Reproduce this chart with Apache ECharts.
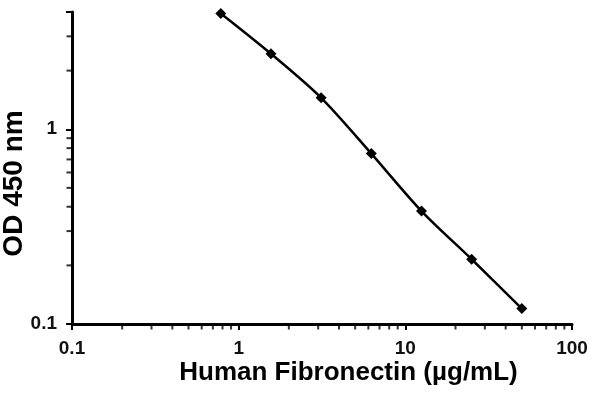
<!DOCTYPE html>
<html>
<head>
<meta charset="utf-8">
<script src="https://cdn.jsdelivr.net/npm/echarts@6/dist/echarts.min.js"></script>
<style>html,body{margin:0;padding:0;background:#fff}#c{width:600px;height:395px}</style>
</head>
<body>
<div id="c"></div>
<script>
var concentrations = [0.78125, 1.5625, 3.125, 6.25, 12.5, 25, 50];
var odValues = [3.93, 2.44, 1.45, 0.75, 0.38, 0.215, 0.12];
var xMajorLabels = ['0.1', '1', '10', '100'];
var yMajorLabels = ['0.1', '1'];
var xMinorTicks = [0.2,0.3,0.4,0.5,0.6,0.7,0.8,0.9,2,3,4,5,6,7,8,9,20,30,40,50,60,70,80,90];
var yMinorTicks = [0.2,0.3,0.4,0.5,0.6,0.7,0.8,0.9,2,3,4];

var FONT = "Arial, 'Liberation Sans', sans-serif";
function powLabel(list){
  return function(v){
    var l = Math.log10(v);
    if (Math.abs(l - Math.round(l)) > 1e-6) return '';
    for (var i=0;i<list.length;i++){ if (Math.abs(parseFloat(list[i]) - v) < 1e-9) return list[i]; }
    return '';
  };
}
var chart = echarts.init(document.getElementById('c'));
chart.setOption({
  animation: false,
  backgroundColor: '#fff',
  grid: {left: 72, right: 28, top: 12, bottom: 71, containLabel: false, outerBoundsMode: 'none'},
  xAxis: {
    type: 'log', logBase: 10, min: 0.1, max: 100,
    name: 'Human Fibronectin (µg/mL)', nameLocation: 'middle', nameGap: 36, nameMoveOverlap: false,
    nameTextStyle: {fontFamily: FONT, fontWeight: 'bold', fontSize: 26, color: '#000', padding: [0,0,0,53]},
    axisLine: {show: true, onZero: false, lineStyle: {color: '#000', width: 3}},
    axisTick: {show: true, length: 6, lineStyle: {color: '#000', width: 2}},
    axisLabel: {fontFamily: FONT, fontWeight: 'bold', fontSize: 19, color: '#111', margin: 15, formatter: powLabel(xMajorLabels), showMaxLabel: true, showMinLabel: true},
    splitLine: {show: false}
  },
  yAxis: {
    type: 'log', logBase: 10, min: 0.1, max: 4,
    name: 'OD 450 nm', nameLocation: 'middle', nameGap: 44, nameRotate: 90, nameMoveOverlap: false,
    nameTextStyle: {fontFamily: FONT, fontWeight: 'bold', fontSize: 28, color: '#000', padding: [0,31,0,0]},
    axisLine: {show: true, onZero: false, lineStyle: {color: '#000', width: 3}},
    axisTick: {show: true, length: 6, lineStyle: {color: '#000', width: 2}},
    axisLabel: {fontFamily: FONT, fontWeight: 'bold', fontSize: 19, color: '#111', margin: 15, formatter: powLabel(yMajorLabels)},
    splitLine: {show: false}
  },
  series: [
    {
      type: 'line', smooth: 0.3,
      data: concentrations.map(function(x,i){return [x, odValues[i]];}),
      symbol: 'diamond', symbolSize: 11,
      itemStyle: {color: '#000'},
      lineStyle: {color: '#000', width: 2.5},
      z: 5
    },
    {
      type: 'scatter', silent: true, clip: false,
      data: xMinorTicks.map(function(x){return [x, 0.1];}),
      symbol: 'rect', symbolSize: [2, 5], symbolOffset: [0, 3],
      itemStyle: {color: '#000'}, z: 1
    },
    {
      type: 'scatter', silent: true, clip: false,
      data: yMinorTicks.map(function(y){return [0.1, y];}),
      symbol: 'rect', symbolSize: [5, 2], symbolOffset: [-3, 0],
      itemStyle: {color: '#000'}, z: 1
    }
  ]
});
</script>
</body>
</html>
